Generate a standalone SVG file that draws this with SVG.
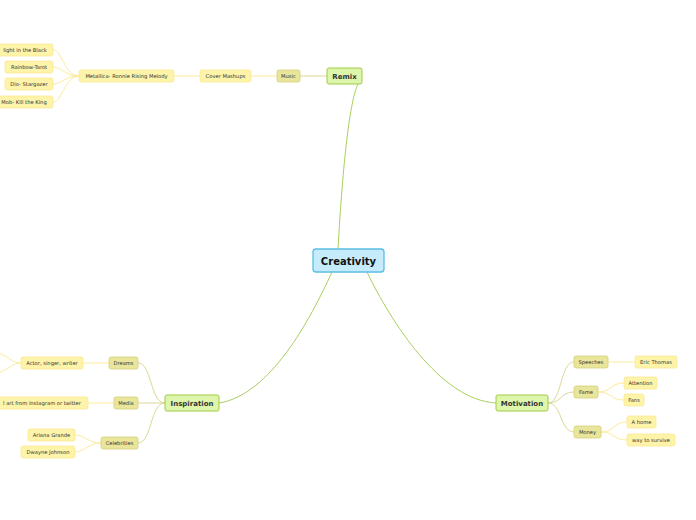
<svg xmlns="http://www.w3.org/2000/svg" width="696" height="520" viewBox="0 0 696 520">
<style>
text{font-family:"DejaVu Sans","Liberation Sans",sans-serif;text-anchor:middle;dominant-baseline:central;fill:#333}
.l0 rect{fill:#c6ecfb;stroke:#5bbde6;stroke-width:1.3}
.l0 text{font-size:10px;font-weight:bold;fill:#111}
.l1 rect{fill:#def6ab;stroke:#9fcb45;stroke-width:1}
.l1 text{font-size:7px;font-weight:bold}
.l2 rect{fill:#e9e59b;stroke:#d4d07c;stroke-width:.8}
.l3 rect{fill:#fdf3a9;stroke:#fbe993;stroke-width:.8}
.l2 text,.l3 text{font-size:5.2px}
.c1{fill:none;stroke:#9fc94a;stroke-width:.9}
.c2{fill:none;stroke:#d8d38a;stroke-width:.9}
.c3{fill:none;stroke:#fbe98f;stroke-width:.9}
</style>
<g id="connectors">
<path class="c1" d="M338 249 C343 160 350 100 358 84"/>
<path class="c1" d="M332 272 C310 320 270 395 219 403"/>
<path class="c1" d="M367 272 C390 320 440 400 496 403"/>
<path class="c2" d="M327 76 H300"/>
<path class="c3" d="M277 76 H251 M200 76 H174"/>
<path class="c3" d="M79 76 C65 76 62 50 53 50 M79 76 C65 76 62 67 53 67 M79 76 C65 76 62 84 53 84 M79 76 C65 76 62 102 53 102"/>
<path class="c2" d="M165 403 C150 403 152 363 138 363 M165 403 H138 M165 403 C150 403 152 443 138 443"/>
<path class="c3" d="M109 363 H83 M21 363 C12 363 8 356 0 354 M21 363 C12 363 8 370 0 372 M114 403 H88 M101 443 C88 443 85 435 75 435 M101 443 C88 443 85 452 75 452"/>
<path class="c2" d="M548 403 C562 403 560 362 574 362 M548 403 C562 403 560 392 574 392 M548 403 C562 403 560 432 574 432"/>
<path class="c3" d="M608 362 H635 M598 392 C612 392 610 383 624 383 M598 392 C612 392 610 400 624 400 M601 432 C615 432 613 422 627 422 M601 432 C615 432 613 440 627 440"/>
</g>
<g id="creativity" class="l0"><rect x="313" y="249" width="71" height="23" rx="3"/><text x="348.5" y="261">Creativity</text></g>
<g id="remix" class="l1"><rect x="327" y="68" width="35" height="16" rx="2"/><text x="344.5" y="76.5">Remix</text></g>
<g id="music" class="l2"><rect x="277" y="70" width="23" height="12" rx="2"/><text x="288.5" y="76.3">Music</text></g>
<g id="cover" class="l3"><rect x="200" y="70" width="51" height="12" rx="2"/><text x="225.5" y="76.3">Cover Mashups</text></g>
<g id="metallica" class="l3"><rect x="79" y="70" width="95" height="12" rx="2"/><text x="126.5" y="76.3">Metallica- Ronnie Rising Melody</text></g>
<g id="light" class="l3"><rect x="-10" y="44" width="63" height="12" rx="2"/><text x="25" y="50.3">light in the Black</text></g>
<g id="rainbow" class="l3"><rect x="5" y="61" width="48" height="12" rx="2"/><text x="29" y="67.3">Rainbow-Tarot</text></g>
<g id="dio" class="l3"><rect x="5" y="78" width="48" height="12" rx="2"/><text x="29" y="84.3">Dio- Stargazer</text></g>
<g id="mob" class="l3"><rect x="-10" y="96" width="63" height="12" rx="2"/><text x="24" y="102.3">Mob- Kill the King</text></g>
<g id="inspiration" class="l1"><rect x="165" y="395" width="54" height="16" rx="2"/><text x="192" y="403.5">Inspiration</text></g>
<g id="dreams" class="l2"><rect x="109" y="357" width="29" height="12" rx="2"/><text x="123.5" y="363.3">Dreams</text></g>
<g id="media" class="l2"><rect x="114" y="397" width="24" height="12" rx="2"/><text x="126" y="403.3">Media</text></g>
<g id="celebrities" class="l2"><rect x="101" y="437" width="37" height="12" rx="2"/><text x="119.5" y="443.3">Celebrities</text></g>
<g id="actor" class="l3"><rect x="21" y="357" width="62" height="12" rx="2"/><text x="52" y="363.3">Actor, singer, writer</text></g>
<g id="art" class="l3"><rect x="-20" y="397" width="108" height="12" rx="2"/><text x="42" y="403.3">l art from instagram or twitter</text></g>
<g id="ariana" class="l3"><rect x="28" y="429" width="47" height="12" rx="2"/><text x="51.5" y="435.3">Ariana Grande</text></g>
<g id="dwayne" class="l3"><rect x="21" y="446" width="54" height="12" rx="2"/><text x="48" y="452.3">Dwayne Johnson</text></g>
<g id="motivation" class="l1"><rect x="496" y="395" width="52" height="16" rx="2"/><text x="522" y="403.5">Motivation</text></g>
<g id="speeches" class="l2"><rect x="574" y="356" width="34" height="12" rx="2"/><text x="591" y="362.3">Speeches</text></g>
<g id="fame" class="l2"><rect x="574" y="386" width="24" height="12" rx="2"/><text x="586" y="392.3">Fame</text></g>
<g id="money" class="l2"><rect x="574" y="426" width="27" height="12" rx="2"/><text x="587.5" y="432.3">Money</text></g>
<g id="eric" class="l3"><rect x="635" y="356" width="42" height="12" rx="2"/><text x="656" y="362.3">Eric Thomas</text></g>
<g id="attention" class="l3"><rect x="624" y="377" width="33" height="12" rx="2"/><text x="640.5" y="383.3">Attention</text></g>
<g id="fans" class="l3"><rect x="624" y="394" width="20" height="12" rx="2"/><text x="634" y="400.3">Fans</text></g>
<g id="home" class="l3"><rect x="627" y="416" width="29" height="12" rx="2"/><text x="641.5" y="422.3">A home</text></g>
<g id="survive" class="l3"><rect x="627" y="434" width="48" height="12" rx="2"/><text x="651" y="440.3">way to survive</text></g>
</svg>
